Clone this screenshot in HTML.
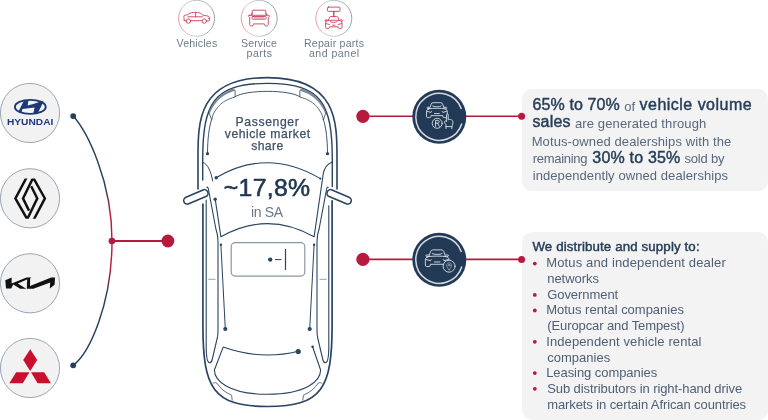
<!DOCTYPE html>
<html><head><meta charset="utf-8">
<style>
html,body{margin:0;padding:0;width:768px;height:420px;overflow:hidden;background:#fff;font-family:"Liberation Sans",sans-serif;}
.a{position:absolute;white-space:nowrap}
#tx{position:absolute;left:0;top:0;width:768px;height:420px;will-change:transform}
svg{position:absolute;left:0;top:0;will-change:transform}
.lbl{color:#5d6b7c;font-size:10.5px;text-align:center;line-height:10px}
.card{position:absolute;background:#f3f3f4;border-radius:10px}
.t1{color:#5a6a7d;font-size:12px}
.b1{color:#263e58;font-weight:bold;font-size:15px}
</style></head><body>
<div class="card" style="left:522px;top:88.7px;width:246px;height:102.7px"></div>
<div class="card" style="left:522px;top:232px;width:246px;height:187.8px"></div>

<svg width="768" height="420" viewBox="0 0 768 420">
<defs>
<linearGradient id="arcg" x1="0" y1="116" x2="0" y2="366" gradientUnits="userSpaceOnUse">
<stop offset="0" stop-color="#24405e"/><stop offset="0.28" stop-color="#2a3f5e"/>
<stop offset="0.39" stop-color="#b71d44"/><stop offset="0.6" stop-color="#b71d44"/>
<stop offset="0.71" stop-color="#2a3f5e"/><stop offset="1" stop-color="#24405e"/>
</linearGradient>
<linearGradient id="ring" x1="0" y1="0.55" x2="1" y2="0.4">
<stop offset="0" stop-color="#e08a9d"/><stop offset="0.18" stop-color="#e3b3be"/><stop offset="0.4" stop-color="#c3c9d1"/><stop offset="1" stop-color="#8895a5"/>
</linearGradient>
</defs>

<!-- left logo circles -->
<g fill="#f2f2f3" stroke="#8391a1" stroke-width="0.8">
<circle cx="30" cy="113" r="29.6"/>
<circle cx="30" cy="198.3" r="29.6"/>
<circle cx="30" cy="283.3" r="29.6"/>
<circle cx="30" cy="368" r="29.6"/>
</g>


<!-- Hyundai -->
<g>
<ellipse cx="30.3" cy="106.9" rx="15.4" ry="7" fill="none" stroke="#1f3877" stroke-width="1.9"/>
<path d="M24.1,100.3 L28.5,100.1 C28.2,102 27.9,103.8 27.6,105.4 C31.5,104.6 35.2,103.6 38.6,102.2 L39.7,100.8 L43.5,101.6 L37.8,113.3 L33.2,113.9 L34.6,107.4 C30.5,107.8 26.3,108.3 22.4,109.1 L21.2,113 L18.3,111.9 Z" fill="#1f3877"/>
<text x="7" y="125.3" font-family="Liberation Sans" font-weight="bold" font-size="8.9" textLength="46.3" lengthAdjust="spacingAndGlyphs" fill="#1f3877">HYUNDAI</text>
</g>
<!-- Renault -->
<defs><clipPath id="rc"><rect x="5" y="178.4" width="50" height="40.4"/></clipPath></defs>
<g clip-path="url(#rc)" fill="none" stroke="#111" stroke-width="2.45" stroke-linejoin="miter" stroke-miterlimit="10">
<polyline points="27.2,176.3 15.4,198.4 27.2,219.2 37.3,198.4 31.2,186.2"/>
<polyline points="33.3,220.5 44.9,198.4 33.2,177.6 23,198.4 29,210.6"/>
</g>
<!-- Kia -->
<g fill="#111">
<path d="M5.3,280.3 L11.7,277.6 L11.6,283.6 L26.5,277.6 L31.6,277.6 L17.8,283.4 L26.2,288.7 L20.2,288.7 L13.2,284.6 L11.2,288.6 L6,288.6 Z"/>
<path d="M27.2,278.6 L30.2,277.6 L30,286 L51.2,277.5 L55,277.5 L54.6,284.8 L49.8,288.6 L50.2,282.6 L33.4,288.7 L26.8,288.7 Z"/>
</g>
<!-- Mitsubishi -->
<g fill="#c8102e">
<path d="M30.2,349.2 L37.2,360.1 L30.2,371 L23.2,360.1 Z"/>
<path d="M16.2,372.3 L29.4,372.3 L22.8,383.3 L9.3,383.3 Z"/>
<path d="M31,372.3 L44.2,372.3 L50.9,383.3 L37.6,383.3 Z"/>
</g>

<!-- arc -->
<path d="M73.2,116.1 C86.56,131.05 112,179.86 112,241 C112,303.7 89.65,352.69 73.2,365.3" fill="none" stroke="url(#arcg)" stroke-width="1.45"/>
<circle cx="73.2" cy="116.1" r="2.9" fill="#24405e"/>
<circle cx="73.2" cy="365.3" r="2.9" fill="#24405e"/>
<line x1="112" y1="241" x2="168" y2="241" stroke="#b71a3c" stroke-width="1.9"/>
<circle cx="111.9" cy="241" r="3.3" fill="#b71a3c"/>
<circle cx="167.9" cy="241" r="6.4" fill="#b71a3c"/>

<!-- right connectors -->
<g stroke="#b71a3c" stroke-width="1.6">
<line x1="363" y1="116.3" x2="522" y2="116.3"/>
<line x1="363" y1="259.4" x2="522" y2="259.4"/>
</g>
<g fill="#b71a3c">
<circle cx="362.9" cy="116.3" r="6.6"/>
<circle cx="362.9" cy="259.4" r="6.6"/>
<circle cx="521.6" cy="116.3" r="3.5"/>
<circle cx="521.6" cy="259.6" r="3.5"/>
</g>
<g fill="#223a55">
<circle cx="439.3" cy="116.8" r="27"/>
<circle cx="439.3" cy="259.8" r="27"/>
</g>
<g fill="none" stroke="#d3d9e0" stroke-width="1.5">
<path d="M461.45,108.96 A23.5,23.5 0 1 0 461.81,123.55"/>
<path d="M461.45,251.96 A23.5,23.5 0 1 0 461.81,266.55"/>
</g>

<!-- top icon circles -->
<g fill="#fff" stroke="url(#ring)" stroke-width="0.9">
<circle cx="196.6" cy="18.3" r="18"/>
<circle cx="259.2" cy="18.3" r="18"/>
<circle cx="333.8" cy="18.3" r="18"/>
</g>


<!-- top icons (red line art) -->
<g fill="none" stroke="#c73552" stroke-width="0.85" stroke-linejoin="round" stroke-linecap="round">
<!-- Vehicles: side view car -->
<path d="M184.2,20.6 L183.9,16.4 C183.9,15.6 184.4,15.2 185.3,15.1 L187.7,14.8 C189.5,13.2 191,12.5 193.5,12.4 L197.5,12.4 C199.5,12.5 201,13.6 202.5,15 L207.4,16 C208.7,16.3 209.6,17 209.7,18 L209.7,19.8 C209.7,20.5 209.2,20.9 208.5,20.9 L206.7,20.9 M201.9,20.7 L190.8,20.7 M186.1,20.8 L184.8,20.8 C184.4,20.8 184.2,20.7 184.2,20.6"/>
<path d="M187.8,16.8 L202.5,16.8 M195.6,12.6 L195.6,16.8 M208.2,18.2 L209.6,18.4"/>
<circle cx="188.4" cy="21.1" r="2.2"/><circle cx="204.3" cy="21.1" r="2.2"/>
<!-- Service parts: car front with raised hood -->
<path d="M252,14.8 L252.3,10.7 C252.3,10.4 252.5,10.2 252.8,10.2 L265.2,10.2 C265.5,10.2 265.7,10.4 265.7,10.7 L266,14.8 M252.1,13.2 L251.1,15 M265.9,13.2 L266.9,15"/>
<path d="M249.3,15.3 L268.7,15.3 C269.4,15.3 269.7,15.9 269.4,16.4 L268.3,17.4 L268.3,24.4 C268.3,25.3 267.7,25.9 266.8,25.9 L265.8,25.9 C265,25.9 264.5,25.3 264.5,24.6 L264.5,23.9 L253.5,23.9 L253.5,24.6 C253.5,25.3 253,25.9 252.2,25.9 L251.2,25.9 C250.3,25.9 249.7,25.3 249.7,24.4 L249.7,17.4 L248.6,16.4 C248.3,15.9 248.6,15.3 249.3,15.3 Z"/>
<rect x="252" y="16.5" width="14" height="2.7" rx="0.8"/>
<path d="M254.5,17.85 L263.5,17.85" stroke-width="0.6"/>
<!-- Repair parts: car front on lift -->
<rect x="327.4" y="7.1" width="12.6" height="4.3" rx="1"/>
<path d="M333.8,11.4 L333.8,16.5" stroke-width="1.3"/>
<path d="M328.4,20.4 L329.4,17.5 C329.7,16.9 330.2,16.6 330.9,16.6 L336.7,16.6 C337.4,16.6 337.9,16.9 338.2,17.5 L339.2,20.4 M327,19.9 L325.6,19.9 C325,19.9 324.8,20.5 325.2,20.9 L326.1,21.5 M340.6,19.9 L342,19.9 C342.6,19.9 342.8,20.5 342.4,20.9 L341.5,21.5"/>
<path d="M326.6,20.8 C325.9,21.4 325.6,22.2 325.6,23.2 L325.6,27.4 C325.6,28 326,28.4 326.6,28.4 L328.4,28.4 C329,28.4 329.4,28 329.4,27.4 L329.4,26.8 L338.2,26.8 L338.2,27.4 C338.2,28 338.6,28.4 339.2,28.4 L341,28.4 C341.6,28.4 342,28 342,27.4 L342,23.2 C342,22.2 341.7,21.4 341,20.8 C337,20 330.6,20 326.6,20.8 Z"/>
<path d="M330.4,21.7 C332,22.7 335.6,22.7 337.2,21.7 M326,23.6 L329.4,24.5 M341.6,23.6 L338.2,24.5 M332.6,25.2 L335,25.2"/>
</g>
<!-- navy circle icons (white line art) -->
<defs>
<g id="carf" fill="none" stroke-linejoin="round" stroke-linecap="round">
<path d="M3.6,6 L5.3,1.3 C5.6,0.5 6.2,0 7.1,0 L14.9,0 C15.8,0 16.4,0.5 16.7,1.3 L18.4,6"/>
<path d="M3.4,4.6 L1.6,4.6 C1.1,4.6 0.9,5.3 1.3,5.7 L2.4,6.3 M18.6,4.6 L20.4,4.6 C20.9,4.6 21.1,5.3 20.7,5.7 L19.6,6.3"/>
<path d="M2.6,6.2 C1.3,6.7 0.6,7.6 0.6,9 L0.6,13.8 C0.6,14.5 1.1,15 1.8,15 L3.8,15 C4.5,15 5,14.5 5,13.8 L5,13 L17,13 L17,13.8 C17,14.5 17.5,15 18.2,15 L20.2,15 C20.9,15 21.4,14.5 21.4,13.8 L21.4,9 C21.4,7.6 20.7,6.7 19.4,6.2 C15,5.4 7,5.4 2.6,6.2 Z"/>
<path d="M1.2,8.6 L5,9.8 L5.6,8.8 M20.8,8.6 L17,9.8 L16.4,8.8 M8.6,10.9 L13.4,10.9 M6.8,3.4 C8.4,4.4 13.6,4.4 15.2,3.4"/>
</g>
</defs>
<g stroke="#e4e8ed" stroke-width="0.85">
<use href="#carf" transform="translate(425.9,102.7) scale(1,0.995)"/>
<use href="#carf" transform="translate(424.7,249.9) scale(1.136,1.107)" stroke-width="0.78"/>
</g>
<g fill="none" stroke="#e4e8ed" stroke-width="0.85" stroke-linejoin="round" stroke-linecap="round">
<circle cx="437.2" cy="123.3" r="5"/>
<path d="M435.6,126.3 L435.6,120.4 L437.8,120.4 C439.6,120.4 439.6,123.2 437.8,123.2 L435.6,123.2 M437.6,123.2 L439.4,126.3"/>
<path d="M446,128.6 L446,124.8 C445,123.6 444.4,122.4 444.6,121.4 C445,120.6 446.2,120.8 446.6,121.6 L446.6,114.6 C446.6,113.4 448.2,113.4 448.2,114.6 L448.2,119.8 C449.6,119 451.6,119.6 452.4,120.6 C453.2,121.6 453,124 452.2,125.4 L451.8,128.6 M446,126.6 L451.8,126.6" fill="#223a55"/>
<circle cx="449.1" cy="266.2" r="6" fill="#223a55"/>
<path d="M449.1,270 C447.4,267.8 446.6,266.4 446.6,265.2 C446.6,263.8 447.7,262.8 449.1,262.8 C450.5,262.8 451.6,263.8 451.6,265.2 C451.6,266.4 450.8,267.8 449.1,270 Z" stroke="#9aa6b4"/>
<circle cx="449.1" cy="265.2" r="0.9" stroke="#9aa6b4"/>
</g>
<!-- CAR -->
<g fill="none" stroke="#2a4461" stroke-linecap="round" stroke-linejoin="round">
<path d="M198,189 L198,160 C198,123.89 196.37,77.6 267.5,77.6 C338.63,77.6 337,123.89 337,160 L337,189" stroke-width="1.6"/>
<path d="M202.7,180 L202.7,160 C202.7,103.36 213.42,83.4 267.5,83.4 C321.58,83.4 332.3,103.36 332.3,160 L332.3,186.5" stroke-width="1.4"/>
<path d="M202.9,204 L202.9,325 C202.9,387.42 212.4,406.5 267.5,406.5 C322.6,406.5 332.1,387.42 332.1,325 L332.1,200.8" stroke-width="1.7"/>
<path d="M235.1,96.7 C245.5,89.5 289.5,89.5 299.9,96.7" stroke-width="0.9"/>
<path d="M216.2,177.7 Q267.5,147.3 320.4,178.6" stroke-width="1.1"/>
<path d="M215.2,199.2 L220.9,236.8 Q267.5,210.4 314.1,236.8 L323.2,174 C324,169 327,164 332.2,161.9" stroke-width="1.1"/>
<path d="M203.2,162.5 C208,164 211,172 212.7,181" stroke-width="1"/>
<path d="M206.2,200 L206.2,348 C206.3,357 207.6,362.8 209.7,362.8 C210.9,362.8 211.7,361.6 212.2,359.5 L217.5,337 C217.9,335 218,333 218,330 L218,241.5 C218,236 217,232 215.9,229 L208.3,188.5 C208,187 207,186.8 206.8,187.5" stroke-width="1.1"/>
<path d="M328.8,205.8 L328.8,348 C328.7,357 327.4,362.8 325.3,362.8 C324.1,362.8 323.3,361.6 322.8,359.5 L317.5,337 C317.1,335 317,333 317,330 L317,241.5 C317,236 318,232 319.1,229 L326.7,188.5 C327,187 328,186.8 328.2,187.5" stroke-width="1.1"/>
<path d="M214.4,370 C214.4,380.32 228.02,394.3 267.5,394.3 C306.98,394.3 320.6,380.32 320.6,370 L312.6,346.8" stroke-width="1.1"/>
<path d="M298.2,351.2 Q260.7,360.55 223.2,347.1 L214.4,370" stroke-width="1.1"/>
</g>
<g id="carL" fill="none" stroke="#2a4461" stroke-linecap="round" stroke-linejoin="round">
<path d="M234.23,88.14 231.71,89.05 229.32,90.05 227.06,91.14 224.93,92.34 222.93,93.63 221.04,95.03 219.28,96.53 217.63,98.14 216.09,99.85 214.65,101.67 213.32,103.61 212.09,105.66 210.95,107.82 209.91,110.11 208.95,112.52 L210.08,112.93 211.11,110.62 212.22,108.45 213.41,106.40 214.69,104.49 216.05,102.70 217.50,101.03 219.03,99.49 220.66,98.05 222.39,96.72 224.22,95.50 226.15,94.37 228.21,93.34 230.38,92.40 232.68,91.56 235.11,90.80 Z" fill="#7a8a9c" stroke="none"/>
<path d="M235.11,90.80 L235.11,96.69 234.85,97.16 232.78,97.72 230.82,98.34 228.97,99.04 227.22,99.83 225.55,100.70 223.95,101.67 222.42,102.75 220.95,103.94 219.54,105.27 218.18,106.73 216.87,108.34 215.61,110.11 214.41,112.03 213.27,114.11 L211.6,119.6 M208.95,112.52 L211.6,119.6" stroke-width="0.8"/>
<path d="M211.6,119.6 C209,127 207.5,140 207.5,153.6" stroke-width="0.9"/>
<path d="M220.9,244.7 L225.3,329" stroke-width="1"/>
<path d="M208.7,279.3 L215.1,279.3" stroke-width="0.9" stroke="#8a96a3"/>
<path d="M212.8,383.6 C213.5,382.6 215.5,382.2 216.9,383.2 C220,388 225,392.5 231.6,395.2 L232.2,400.2" stroke-width="0.9" stroke="#4d6178"/>
<rect x="183" y="193.3" width="25.8" height="7.2" rx="3.6" transform="rotate(-23 195.9 196.9)" stroke-width="1.6"/>
</g>
<use href="#carL" transform="translate(535,0) scale(-1,1)"/>
<g fill="#2a4461">
<circle cx="207.5" cy="153.7" r="1.6"/><circle cx="327.5" cy="153.7" r="1.6"/>
<circle cx="216.2" cy="177.7" r="1.7"/><circle cx="320.3" cy="178.6" r="1.1"/>
<circle cx="215.2" cy="199.2" r="1.7"/>
<circle cx="220.9" cy="244.7" r="1.2"/><circle cx="314.1" cy="244.7" r="1.2"/>
<circle cx="225.3" cy="329" r="2.1"/><circle cx="309.7" cy="329" r="2.1"/>
<circle cx="298.2" cy="351.5" r="2.6"/><circle cx="312.6" cy="346.8" r="1.3"/>
<circle cx="270.2" cy="259.6" r="2.2"/>
</g>
<rect x="231.2" y="242.7" width="73.6" height="33.4" rx="4" fill="none" stroke="#8a96a3" stroke-width="1.2"/>
<line x1="275" y1="259.6" x2="281.5" y2="259.6" stroke="#2a4461" stroke-width="1"/>
<line x1="285.5" y1="249" x2="285.5" y2="270" stroke="#2a4461" stroke-width="1.2"/>
</svg>

<div id="tx"><!--TEXT-->
<div class="a" style="left:176.6px;top:37.7px;font-size:10.6px;line-height:10.6px;font-weight:400;letter-spacing:0.163px;color:#6e7a8b;">Vehicles</div>
<div class="a" style="left:241.1px;top:37.7px;font-size:10.6px;line-height:10.6px;font-weight:400;letter-spacing:0.078px;color:#6e7a8b;">Service</div>
<div class="a" style="left:246.6px;top:47.6px;font-size:10.6px;line-height:10.6px;font-weight:400;letter-spacing:0.450px;color:#6e7a8b;">parts</div>
<div class="a" style="left:303.9px;top:37.7px;font-size:10.6px;line-height:10.6px;font-weight:400;letter-spacing:0.222px;color:#6e7a8b;">Repair parts</div>
<div class="a" style="left:309.0px;top:47.6px;font-size:10.6px;line-height:10.6px;font-weight:400;letter-spacing:0.446px;color:#6e7a8b;">and panel</div>
<div class="a" style="left:235.6px;top:115.5px;font-size:12.2px;line-height:12.2px;font-weight:400;letter-spacing:0.612px;color:#3e5068;-webkit-text-stroke:0.25px #3e5068">Passenger</div>
<div class="a" style="left:224.8px;top:127.5px;font-size:12.2px;line-height:12.2px;font-weight:400;letter-spacing:0.517px;color:#3e5068;-webkit-text-stroke:0.25px #3e5068">vehicle market</div>
<div class="a" style="left:251.2px;top:139.5px;font-size:12.2px;line-height:12.2px;font-weight:400;letter-spacing:0.373px;color:#3e5068;-webkit-text-stroke:0.25px #3e5068">share</div>
<div class="a" style="left:223.8px;top:175.6px;font-size:24.8px;line-height:24.8px;font-weight:400;letter-spacing:0.291px;color:#1f3651;-webkit-text-stroke:0.6px #1f3651">~17,8%</div>
<div class="a" style="left:251.1px;top:204.7px;font-size:14px;line-height:14px;font-weight:400;letter-spacing:-0.381px;color:#6a7889;">in SA</div>
<div class="a" style="left:532.6px;top:97.1px;font-size:16px;line-height:16px;font-weight:400;letter-spacing:0.105px;color:#263e58;-webkit-text-stroke:0.45px #263e58">65% to 70%</div>
<div class="a" style="left:624.2px;top:99.6px;font-size:13px;line-height:13px;font-weight:400;letter-spacing:-0.030px;color:#58687c;">of</div>
<div class="a" style="left:639.6px;top:97.1px;font-size:16px;line-height:16px;font-weight:400;letter-spacing:0.475px;color:#263e58;-webkit-text-stroke:0.45px #263e58">vehicle volume</div>
<div class="a" style="left:532.4px;top:114.3px;font-size:16px;line-height:16px;font-weight:400;letter-spacing:0.212px;color:#263e58;-webkit-text-stroke:0.45px #263e58">sales</div>
<div class="a" style="left:574.9px;top:116.8px;font-size:13px;line-height:13px;font-weight:400;letter-spacing:0.134px;color:#58687c;">are generated through</div>
<div class="a" style="left:531.7px;top:134.8px;font-size:13px;line-height:13px;font-weight:400;letter-spacing:0.096px;color:#58687c;">Motus-owned dealerships with the</div>
<div class="a" style="left:532.7px;top:152.3px;font-size:13px;line-height:13px;font-weight:400;letter-spacing:-0.282px;color:#58687c;">remaining</div>
<div class="a" style="left:592.3px;top:149.8px;font-size:16px;line-height:16px;font-weight:400;letter-spacing:0.194px;color:#263e58;-webkit-text-stroke:0.45px #263e58">30% to 35%</div>
<div class="a" style="left:684.4px;top:152.3px;font-size:13px;line-height:13px;font-weight:400;letter-spacing:-0.182px;color:#58687c;">sold by</div>
<div class="a" style="left:532.7px;top:169.3px;font-size:13px;line-height:13px;font-weight:400;letter-spacing:0.081px;color:#58687c;">independently owned dealerships</div>
<div class="a" style="left:532.4px;top:239.8px;font-size:13.3px;line-height:13.3px;font-weight:400;letter-spacing:0.124px;color:#263e58;-webkit-text-stroke:0.45px #263e58">We distribute and supply to:</div>
<div class="a" style="left:546.2px;top:256.0px;font-size:13px;line-height:13px;font-weight:400;letter-spacing:0.144px;color:#4f6075;">Motus and independent dealer</div>
<div class="a" style="left:547.2px;top:271.7px;font-size:13px;line-height:13px;font-weight:400;letter-spacing:-0.017px;color:#4f6075;">networks</div>
<div class="a" style="left:547.2px;top:287.5px;font-size:13px;line-height:13px;font-weight:400;letter-spacing:-0.058px;color:#4f6075;">Government</div>
<div class="a" style="left:546.2px;top:303.2px;font-size:13px;line-height:13px;font-weight:400;letter-spacing:-0.015px;color:#4f6075;">Motus rental companies</div>
<div class="a" style="left:547.2px;top:319.0px;font-size:13px;line-height:13px;font-weight:400;letter-spacing:-0.092px;color:#4f6075;">(Europcar and Tempest)</div>
<div class="a" style="left:546.2px;top:334.7px;font-size:13px;line-height:13px;font-weight:400;letter-spacing:0.111px;color:#4f6075;">Independent vehicle rental</div>
<div class="a" style="left:547.2px;top:350.5px;font-size:13px;line-height:13px;font-weight:400;letter-spacing:0.017px;color:#4f6075;">companies</div>
<div class="a" style="left:546.2px;top:366.2px;font-size:13px;line-height:13px;font-weight:400;letter-spacing:-0.064px;color:#4f6075;">Leasing companies</div>
<div class="a" style="left:547.2px;top:382.0px;font-size:13px;line-height:13px;font-weight:400;letter-spacing:-0.085px;color:#4f6075;">Sub distributors in right-hand drive</div>
<div class="a" style="left:547.2px;top:397.7px;font-size:13px;line-height:13px;font-weight:400;letter-spacing:-0.098px;color:#4f6075;">markets in certain African countries</div>

<!--/TEXT--></div>
<svg width="768" height="420" viewBox="0 0 768 420" style="pointer-events:none">
<g fill="#b71a3c">
<circle cx="534.8" cy="263.6" r="1.9"/>
<circle cx="534.8" cy="294.9" r="1.9"/>
<circle cx="534.8" cy="310.5" r="1.9"/>
<circle cx="534.8" cy="341.8" r="1.9"/>
<circle cx="534.8" cy="373.1" r="1.9"/>
<circle cx="534.8" cy="388.8" r="1.9"/>
</g>
</svg>
</body></html>
